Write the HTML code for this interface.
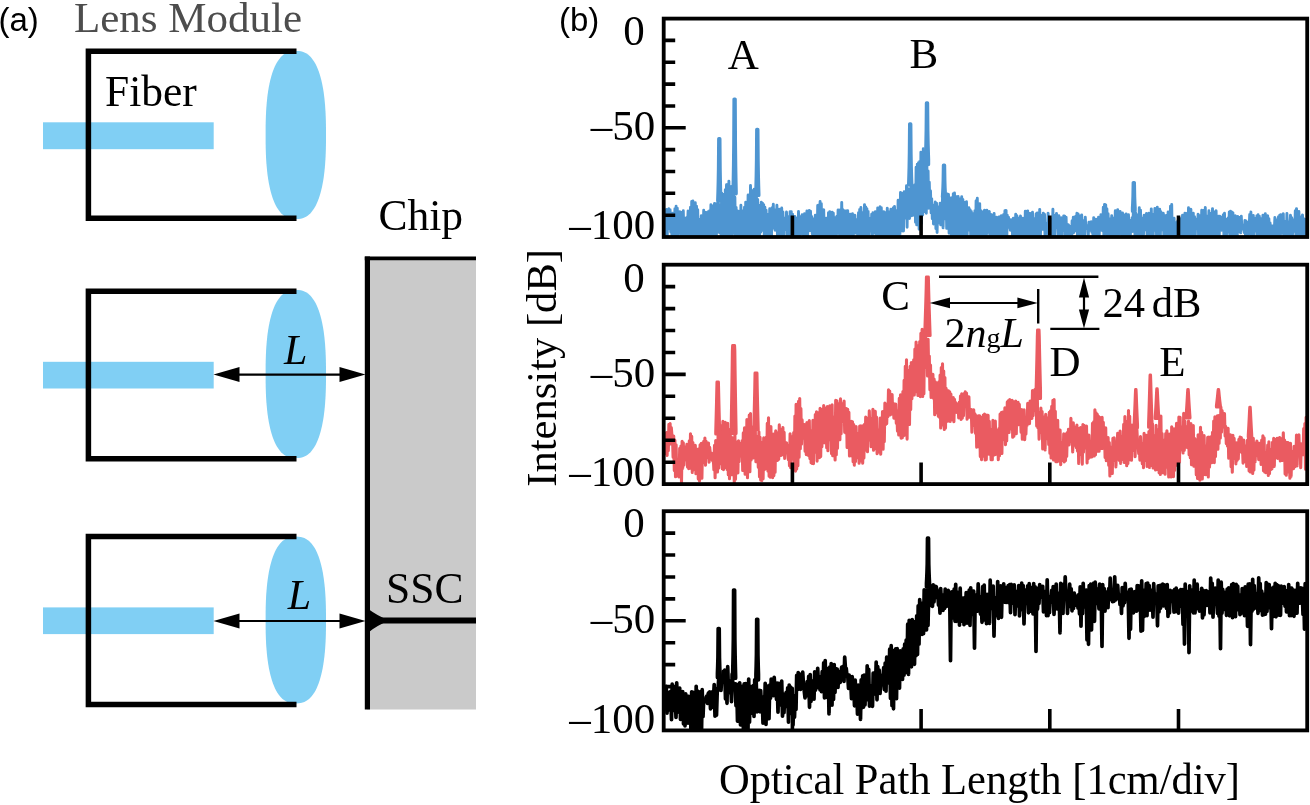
<!DOCTYPE html>
<html><head><meta charset="utf-8"><title>Figure</title>
<style>html,body{margin:0;padding:0;background:#fff;width:1310px;height:805px;overflow:hidden}svg{display:block}</style>
</head><body><svg width="1310" height="805" viewBox="0 0 1310 805"><rect width="1310" height="805" fill="#fff"/><text x="-1.5" y="31" font-family="'Liberation Sans', Arial, sans-serif" font-size="33">(a)</text><text x="74" y="31.8" font-family="'Liberation Serif', 'Times New Roman', serif" font-size="43" fill="#4d4d4d">Lens Module</text><rect x="43" y="122.3" width="170.7" height="26.89999999999999" fill="#80cff4"/><path d="M326.00 135.00 L325.97 142.93 L325.87 148.79 L325.70 154.04 L325.47 158.91 L325.17 163.49 L324.81 167.83 L324.38 171.96 L323.89 175.90 L323.34 179.66 L322.72 183.25 L322.03 186.66 L321.29 189.91 L320.48 192.99 L319.62 195.91 L318.69 198.66 L317.70 201.24 L316.65 203.66 L315.54 205.90 L314.37 207.97 L313.15 209.87 L311.86 211.59 L310.50 213.14 L309.09 214.51 L307.60 215.69 L306.04 216.70 L304.40 217.53 L302.65 218.17 L300.76 218.63 L298.65 218.91 L295.80 219.00 L292.95 218.91 L290.84 218.63 L288.95 218.17 L287.20 217.53 L285.56 216.70 L284.00 215.69 L282.51 214.51 L281.10 213.14 L279.74 211.59 L278.45 209.87 L277.23 207.97 L276.06 205.90 L274.95 203.66 L273.90 201.24 L272.91 198.66 L271.98 195.91 L271.12 192.99 L270.31 189.91 L269.57 186.66 L268.88 183.25 L268.26 179.66 L267.71 175.90 L267.22 171.96 L266.79 167.83 L266.43 163.49 L266.13 158.91 L265.90 154.04 L265.73 148.79 L265.63 142.93 L265.60 135.00 L265.63 127.07 L265.73 121.21 L265.90 115.96 L266.13 111.09 L266.43 106.51 L266.79 102.17 L267.22 98.04 L267.71 94.10 L268.26 90.34 L268.88 86.75 L269.57 83.34 L270.31 80.09 L271.12 77.01 L271.98 74.09 L272.91 71.34 L273.90 68.76 L274.95 66.34 L276.06 64.10 L277.23 62.03 L278.45 60.13 L279.74 58.41 L281.10 56.86 L282.51 55.49 L284.00 54.31 L285.56 53.30 L287.20 52.47 L288.95 51.83 L290.84 51.37 L292.95 51.09 L295.80 51.00 L298.65 51.09 L300.76 51.37 L302.65 51.83 L304.40 52.47 L306.04 53.30 L307.60 54.31 L309.09 55.49 L310.50 56.86 L311.86 58.41 L313.15 60.13 L314.37 62.03 L315.54 64.10 L316.65 66.34 L317.70 68.76 L318.69 71.34 L319.62 74.09 L320.48 77.01 L321.29 80.09 L322.03 83.34 L322.72 86.75 L323.34 90.34 L323.89 94.10 L324.38 98.04 L324.81 102.17 L325.17 106.51 L325.47 111.09 L325.70 115.96 L325.87 121.21 L325.97 127.07Z" fill="#80cff4"/><path d="M296.5 51.3 H88.4 V218.3 H296.5" fill="none" stroke="#000" stroke-width="5.5"/><rect x="43" y="361.8" width="170.7" height="26.69999999999999" fill="#80cff4"/><path d="M326.00 374.00 L325.97 381.93 L325.87 387.79 L325.70 393.04 L325.47 397.91 L325.17 402.49 L324.81 406.83 L324.38 410.96 L323.89 414.90 L323.34 418.66 L322.72 422.25 L322.03 425.66 L321.29 428.91 L320.48 431.99 L319.62 434.91 L318.69 437.66 L317.70 440.24 L316.65 442.66 L315.54 444.90 L314.37 446.97 L313.15 448.87 L311.86 450.59 L310.50 452.14 L309.09 453.51 L307.60 454.69 L306.04 455.70 L304.40 456.53 L302.65 457.17 L300.76 457.63 L298.65 457.91 L295.80 458.00 L292.95 457.91 L290.84 457.63 L288.95 457.17 L287.20 456.53 L285.56 455.70 L284.00 454.69 L282.51 453.51 L281.10 452.14 L279.74 450.59 L278.45 448.87 L277.23 446.97 L276.06 444.90 L274.95 442.66 L273.90 440.24 L272.91 437.66 L271.98 434.91 L271.12 431.99 L270.31 428.91 L269.57 425.66 L268.88 422.25 L268.26 418.66 L267.71 414.90 L267.22 410.96 L266.79 406.83 L266.43 402.49 L266.13 397.91 L265.90 393.04 L265.73 387.79 L265.63 381.93 L265.60 374.00 L265.63 366.07 L265.73 360.21 L265.90 354.96 L266.13 350.09 L266.43 345.51 L266.79 341.17 L267.22 337.04 L267.71 333.10 L268.26 329.34 L268.88 325.75 L269.57 322.34 L270.31 319.09 L271.12 316.01 L271.98 313.09 L272.91 310.34 L273.90 307.76 L274.95 305.34 L276.06 303.10 L277.23 301.03 L278.45 299.13 L279.74 297.41 L281.10 295.86 L282.51 294.49 L284.00 293.31 L285.56 292.30 L287.20 291.47 L288.95 290.83 L290.84 290.37 L292.95 290.09 L295.80 290.00 L298.65 290.09 L300.76 290.37 L302.65 290.83 L304.40 291.47 L306.04 292.30 L307.60 293.31 L309.09 294.49 L310.50 295.86 L311.86 297.41 L313.15 299.13 L314.37 301.03 L315.54 303.10 L316.65 305.34 L317.70 307.76 L318.69 310.34 L319.62 313.09 L320.48 316.01 L321.29 319.09 L322.03 322.34 L322.72 325.75 L323.34 329.34 L323.89 333.10 L324.38 337.04 L324.81 341.17 L325.17 345.51 L325.47 350.09 L325.70 354.96 L325.87 360.21 L325.97 366.07Z" fill="#80cff4"/><path d="M296.5 291.2 H88.4 V458.7 H296.5" fill="none" stroke="#000" stroke-width="5.5"/><rect x="43" y="607.4" width="170.7" height="26.700000000000045" fill="#80cff4"/><path d="M326.00 620.00 L325.97 627.87 L325.87 633.69 L325.70 638.91 L325.47 643.74 L325.17 648.29 L324.81 652.60 L324.38 656.70 L323.89 660.61 L323.34 664.34 L322.72 667.90 L322.03 671.29 L321.29 674.52 L320.48 677.58 L319.62 680.47 L318.69 683.21 L317.70 685.77 L316.65 688.17 L315.54 690.39 L314.37 692.45 L313.15 694.33 L311.86 696.05 L310.50 697.58 L309.09 698.94 L307.60 700.12 L306.04 701.12 L304.40 701.94 L302.65 702.58 L300.76 703.03 L298.65 703.31 L295.80 703.40 L292.95 703.31 L290.84 703.03 L288.95 702.58 L287.20 701.94 L285.56 701.12 L284.00 700.12 L282.51 698.94 L281.10 697.58 L279.74 696.05 L278.45 694.33 L277.23 692.45 L276.06 690.39 L274.95 688.17 L273.90 685.77 L272.91 683.21 L271.98 680.47 L271.12 677.58 L270.31 674.52 L269.57 671.29 L268.88 667.90 L268.26 664.34 L267.71 660.61 L267.22 656.70 L266.79 652.60 L266.43 648.29 L266.13 643.74 L265.90 638.91 L265.73 633.69 L265.63 627.87 L265.60 620.00 L265.63 612.13 L265.73 606.31 L265.90 601.09 L266.13 596.26 L266.43 591.71 L266.79 587.40 L267.22 583.30 L267.71 579.39 L268.26 575.66 L268.88 572.10 L269.57 568.71 L270.31 565.48 L271.12 562.42 L271.98 559.53 L272.91 556.79 L273.90 554.23 L274.95 551.83 L276.06 549.61 L277.23 547.55 L278.45 545.67 L279.74 543.95 L281.10 542.42 L282.51 541.06 L284.00 539.88 L285.56 538.88 L287.20 538.06 L288.95 537.42 L290.84 536.97 L292.95 536.69 L295.80 536.60 L298.65 536.69 L300.76 536.97 L302.65 537.42 L304.40 538.06 L306.04 538.88 L307.60 539.88 L309.09 541.06 L310.50 542.42 L311.86 543.95 L313.15 545.67 L314.37 547.55 L315.54 549.61 L316.65 551.83 L317.70 554.23 L318.69 556.79 L319.62 559.53 L320.48 562.42 L321.29 565.48 L322.03 568.71 L322.72 572.10 L323.34 575.66 L323.89 579.39 L324.38 583.30 L324.81 587.40 L325.17 591.71 L325.47 596.26 L325.70 601.09 L325.87 606.31 L325.97 612.13Z" fill="#80cff4"/><path d="M296.5 536.4 H88.4 V704.5 H296.5" fill="none" stroke="#000" stroke-width="5.5"/><text x="105" y="105.5" font-family="'Liberation Serif', 'Times New Roman', serif" font-size="43.5">Fiber</text><rect x="367" y="258" width="109" height="451.5" fill="#cacaca"/><path d="M367.4 256.5 V709.5" fill="none" stroke="#000" stroke-width="5.2"/><path d="M364.8 258.3 H476" stroke="#000" stroke-width="3.8"/><text x="378.5" y="230.4" font-family="'Liberation Serif', 'Times New Roman', serif" font-size="43.5">Chip</text><text x="386" y="603.3" font-family="'Liberation Serif', 'Times New Roman', serif" font-size="43.5">SSC</text><path d="M370 620.5 H476" stroke="#000" stroke-width="5.8"/><path d="M369 609.5 Q377 615.5 389 620.5 Q377 625.5 369 632 Z" fill="#000"/><path d="M237.5 374.6 H341.5" stroke="#000" stroke-width="2.2"/><path d="M213.5 374.6 L239.5 367.1 L239.5 382.1 Z" fill="#000"/><path d="M365.5 374.6 L339.5 367.1 L339.5 382.1 Z" fill="#000"/><path d="M237.5 621 H341.5" stroke="#000" stroke-width="2.2"/><path d="M213.5 621 L239.5 613.5 L239.5 628.5 Z" fill="#000"/><path d="M365.5 621 L339.5 613.5 L339.5 628.5 Z" fill="#000"/><text x="284" y="363.6" font-family="'Liberation Serif', 'Times New Roman', serif" font-size="42" font-style="italic">L</text><text x="287.8" y="609.2" font-family="'Liberation Serif', 'Times New Roman', serif" font-size="42" font-style="italic">L</text><text x="559" y="31" font-family="'Liberation Sans', Arial, sans-serif" font-size="33">(b)</text><clipPath id="c0"><rect x="663.7" y="18.6" width="643.5" height="218.4"/></clipPath><g clip-path="url(#c0)" fill="none" stroke="#4e95d1"><path d="M661.7 218.1 L662.3 228.6 L662.9 207.9 L663.5 241.4 L664.1 210.0 L664.7 242.3 L665.3 211.7 L665.9 243.6 L666.5 209.5 L667.1 243.3 L667.7 211.9 L668.3 227.2 L668.9 208.8 L669.5 228.7 L670.1 209.8 L670.7 232.0 L671.3 215.5 L671.9 235.1 L672.5 213.3 L673.1 234.5 L673.7 214.7 L674.3 231.2 L674.9 208.8 L675.5 240.9 L676.1 206.2 L676.7 237.2 L677.3 208.3 L677.9 241.8 L678.5 216.9 L679.1 233.4 L679.7 211.6 L680.3 229.8 L680.9 212.1 L681.5 239.1 L682.1 215.6 L682.7 235.0 L683.3 210.7 L683.9 240.5 L684.5 217.9 L685.1 241.9 L685.7 219.5 L686.3 243.7 L686.9 217.5 L687.5 226.4 L688.1 210.9 L688.7 241.9 L689.3 211.5 L689.9 238.5 L690.5 207.3 L691.1 240.7 L691.7 201.5 L692.3 227.2 L692.9 200.9 L693.5 243.6 L694.1 207.1 L694.7 231.6 L695.3 202.8 L695.9 239.5 L696.5 206.1 L697.1 235.4 L697.7 209.6 L698.3 238.4 L698.9 220.4 L699.5 242.8 L700.1 219.2 L700.7 242.1 L701.3 215.8 L701.9 240.7 L702.5 220.3 L703.1 235.9 L703.7 210.3 L704.3 236.4 L704.9 212.3 L705.5 236.5 L706.1 212.5 L706.7 239.5 L707.3 216.4 L707.9 243.4 L708.5 211.5 L709.1 235.4 L709.7 210.6 L710.3 230.7 L710.9 204.7 L711.5 241.7 L712.1 206.6 L712.7 243.0 L713.3 205.7 L713.9 240.6 L714.5 203.4 L715.1 241.5 L715.7 213.1 L716.3 240.3 L716.9 203.5 L717.5 227.8 L718.1 202.8 L718.7 232.2 L719.3 206.8 L719.9 232.7 L720.5 204.4 L721.1 242.3 L721.7 193.3 L722.3 238.5 L722.9 194.3 L723.5 241.7 L724.1 196.5 L724.7 243.1 L725.3 189.7 L725.9 236.8 L726.5 184.7 L727.1 230.7 L727.7 184.5 L728.3 238.1 L728.9 181.1 L729.5 239.1 L730.1 187.8 L730.7 235.5 L731.3 186.5 L731.9 238.8 L732.5 191.4 L733.1 227.1 L733.7 195.2 L734.3 233.5 L734.9 197.2 L735.5 237.3 L736.1 207.4 L736.7 239.1 L737.3 210.8 L737.9 235.3 L738.5 212.0 L739.1 236.0 L739.7 211.3 L740.3 230.1 L740.9 205.2 L741.5 240.1 L742.1 213.1 L742.7 240.4 L743.3 210.7 L743.9 242.4 L744.5 207.3 L745.1 239.6 L745.7 202.1 L746.3 241.9 L746.9 205.8 L747.5 234.0 L748.1 194.9 L748.7 236.0 L749.3 195.9 L749.9 233.6 L750.5 185.5 L751.1 242.0 L751.7 195.7 L752.3 236.2 L752.9 190.4 L753.5 242.7 L754.1 189.2 L754.7 241.9 L755.3 194.1 L755.9 236.1 L756.5 197.4 L757.1 233.6 L757.7 199.5 L758.3 237.0 L758.9 207.6 L759.5 243.4 L760.1 205.1 L760.7 232.1 L761.3 202.1 L761.9 229.1 L762.5 203.2 L763.1 230.5 L763.7 204.8 L764.3 238.8 L764.9 207.3 L765.5 236.0 L766.1 210.2 L766.7 243.6 L767.3 214.2 L767.9 236.7 L768.5 216.2 L769.1 242.5 L769.7 208.7 L770.3 226.9 L770.9 209.6 L771.5 237.2 L772.1 207.6 L772.7 228.2 L773.3 204.3 L773.9 225.8 L774.5 209.7 L775.1 230.2 L775.7 209.9 L776.3 230.2 L776.9 205.2 L777.5 238.6 L778.1 213.0 L778.7 225.7 L779.3 209.3 L779.9 243.4 L780.5 213.1 L781.1 234.4 L781.7 208.0 L782.3 241.9 L782.9 212.0 L783.5 242.6 L784.1 218.0 L784.7 226.0 L785.3 217.9 L785.9 229.8 L786.5 212.0 L787.1 243.0 L787.7 216.8 L788.3 230.9 L788.9 216.4 L789.5 242.2 L790.1 211.6 L790.7 236.1 L791.3 211.6 L791.9 241.0 L792.5 214.1 L793.1 241.2 L793.7 220.1 L794.3 240.3 L794.9 216.5 L795.5 226.7 L796.1 217.9 L796.7 239.4 L797.3 218.3 L797.9 242.0 L798.5 211.5 L799.1 243.6 L799.7 216.4 L800.3 234.3 L800.9 217.1 L801.5 233.6 L802.1 214.8 L802.7 227.4 L803.3 214.9 L803.9 242.9 L804.5 213.7 L805.1 238.9 L805.7 215.6 L806.3 240.0 L806.9 211.0 L807.5 240.9 L808.1 211.7 L808.7 229.9 L809.3 210.4 L809.9 230.8 L810.5 211.3 L811.1 226.2 L811.7 216.5 L812.3 233.9 L812.9 221.6 L813.5 243.3 L814.1 218.6 L814.7 243.3 L815.3 215.2 L815.9 236.4 L816.5 216.9 L817.1 242.3 L817.7 205.4 L818.3 234.8 L818.9 204.9 L819.5 236.3 L820.1 201.5 L820.7 233.3 L821.3 203.6 L821.9 237.3 L822.5 212.7 L823.1 228.5 L823.7 209.6 L824.3 236.3 L824.9 219.5 L825.5 242.8 L826.1 218.2 L826.7 232.5 L827.3 220.8 L827.9 237.5 L828.5 212.6 L829.1 236.3 L829.7 211.6 L830.3 243.4 L830.9 214.1 L831.5 239.2 L832.1 212.1 L832.7 233.5 L833.3 213.0 L833.9 242.7 L834.5 219.7 L835.1 227.0 L835.7 217.5 L836.3 235.2 L836.9 216.2 L837.5 233.4 L838.1 209.9 L838.7 228.0 L839.3 216.1 L839.9 242.9 L840.5 209.7 L841.1 240.3 L841.7 202.4 L842.3 229.5 L842.9 209.7 L843.5 235.8 L844.1 210.8 L844.7 229.1 L845.3 211.2 L845.9 237.5 L846.5 210.9 L847.1 238.0 L847.7 210.7 L848.3 240.0 L848.9 216.5 L849.5 240.9 L850.1 214.2 L850.7 230.9 L851.3 215.6 L851.9 238.0 L852.5 213.8 L853.1 243.4 L853.7 219.8 L854.3 226.7 L854.9 215.1 L855.5 233.1 L856.1 219.5 L856.7 230.4 L857.3 220.6 L857.9 242.0 L858.5 212.7 L859.1 240.4 L859.7 209.4 L860.3 235.4 L860.9 207.5 L861.5 233.9 L862.1 212.5 L862.7 243.5 L863.3 212.5 L863.9 230.3 L864.5 204.6 L865.1 236.3 L865.7 206.9 L866.3 237.7 L866.9 208.7 L867.5 236.0 L868.1 211.4 L868.7 243.4 L869.3 223.6 L869.9 230.8 L870.5 218.2 L871.1 231.1 L871.7 214.1 L872.3 243.3 L872.9 212.8 L873.5 231.9 L874.1 217.0 L874.7 232.7 L875.3 211.8 L875.9 237.2 L876.5 214.6 L877.1 235.4 L877.7 207.9 L878.3 237.9 L878.9 214.6 L879.5 226.7 L880.1 206.6 L880.7 242.9 L881.3 207.7 L881.9 237.1 L882.5 216.7 L883.1 236.9 L883.7 211.7 L884.3 229.0 L884.9 212.5 L885.5 236.5 L886.1 219.6 L886.7 229.2 L887.3 208.1 L887.9 240.6 L888.5 211.7 L889.1 231.6 L889.7 214.4 L890.3 236.5 L890.9 209.1 L891.5 241.0 L892.1 209.7 L892.7 230.8 L893.3 207.8 L893.9 240.9 L894.5 206.5 L895.1 243.0 L895.7 210.5 L896.3 238.7 L896.9 212.7 L897.5 239.0 L898.1 200.2 L898.7 242.6 L899.3 205.2 L899.9 234.9 L900.5 192.4 L901.1 227.1 L901.7 200.0 L902.3 231.0 L902.9 193.2 L903.5 231.0 L904.1 191.8 L904.7 218.1 L905.3 193.5 L905.9 214.1 L906.5 185.7 L907.1 227.3 L907.7 188.9 L908.3 218.4 L908.9 188.7 L909.5 218.5 L910.1 193.8 L910.7 216.0 L911.3 186.4 L911.9 215.6 L912.5 185.8 L913.1 215.1 L913.7 185.4 L914.3 215.4 L914.9 184.8 L915.5 222.2 L916.1 167.2 L916.7 224.9 L917.3 164.3 L917.9 220.8 L918.5 162.7 L919.1 229.3 L919.7 161.5 L920.3 225.6 L920.9 152.1 L921.5 223.4 L922.1 155.8 L922.7 215.0 L923.3 148.6 L923.9 199.3 L924.5 151.4 L925.1 211.8 L925.7 160.4 L926.3 213.2 L926.9 166.8 L927.5 201.7 L928.1 170.9 L928.7 208.2 L929.3 182.2 L929.9 207.0 L930.5 190.7 L931.1 212.9 L931.7 198.6 L932.3 218.8 L932.9 205.0 L933.5 224.0 L934.1 208.0 L934.7 220.1 L935.3 202.0 L935.9 228.6 L936.5 203.1 L937.1 232.5 L937.7 206.7 L938.3 221.0 L938.9 211.4 L939.5 223.0 L940.1 203.1 L940.7 224.9 L941.3 205.1 L941.9 219.5 L942.5 198.2 L943.1 227.9 L943.7 196.8 L944.3 215.1 L944.9 199.7 L945.5 218.9 L946.1 196.3 L946.7 228.4 L947.3 193.9 L947.9 224.4 L948.5 194.5 L949.1 233.3 L949.7 204.0 L950.3 230.0 L950.9 197.9 L951.5 238.0 L952.1 197.8 L952.7 242.3 L953.3 193.6 L953.9 240.3 L954.5 192.9 L955.1 241.4 L955.7 196.4 L956.3 229.2 L956.9 202.0 L957.5 243.7 L958.1 196.5 L958.7 233.6 L959.3 206.9 L959.9 242.4 L960.5 198.6 L961.1 241.7 L961.7 196.7 L962.3 242.1 L962.9 199.5 L963.5 234.2 L964.1 202.3 L964.7 242.3 L965.3 203.1 L965.9 238.1 L966.5 201.8 L967.1 237.4 L967.7 209.4 L968.3 230.3 L968.9 207.7 L969.5 227.2 L970.1 209.6 L970.7 236.1 L971.3 211.4 L971.9 240.1 L972.5 214.3 L973.1 228.0 L973.7 213.5 L974.3 238.7 L974.9 210.8 L975.5 237.8 L976.1 200.7 L976.7 239.7 L977.3 198.2 L977.9 228.2 L978.5 207.7 L979.1 238.7 L979.7 203.6 L980.3 243.0 L980.9 210.6 L981.5 236.8 L982.1 212.5 L982.7 239.7 L983.3 211.8 L983.9 242.9 L984.5 210.3 L985.1 242.8 L985.7 218.6 L986.3 242.5 L986.9 210.3 L987.5 230.0 L988.1 219.7 L988.7 232.5 L989.3 211.4 L989.9 243.0 L990.5 214.3 L991.1 243.1 L991.7 214.9 L992.3 243.6 L992.9 219.1 L993.5 239.1 L994.1 213.5 L994.7 243.2 L995.3 217.2 L995.9 231.2 L996.5 217.1 L997.1 241.6 L997.7 220.7 L998.3 236.9 L998.9 217.0 L999.5 228.0 L1000.1 216.8 L1000.7 242.8 L1001.3 215.8 L1001.9 240.9 L1002.5 216.2 L1003.1 236.1 L1003.7 214.4 L1004.3 242.7 L1004.9 210.7 L1005.5 226.6 L1006.1 210.4 L1006.7 243.4 L1007.3 215.3 L1007.9 227.3 L1008.5 217.3 L1009.1 225.9 L1009.7 219.6 L1010.3 230.2 L1010.9 219.7 L1011.5 227.2 L1012.1 223.3 L1012.7 240.3 L1013.3 218.3 L1013.9 237.0 L1014.5 222.8 L1015.1 235.5 L1015.7 214.2 L1016.3 243.9 L1016.9 215.8 L1017.5 243.9 L1018.1 217.9 L1018.7 241.2 L1019.3 218.2 L1019.9 225.8 L1020.5 216.0 L1021.1 236.0 L1021.7 219.7 L1022.3 242.5 L1022.9 218.1 L1023.5 232.9 L1024.1 219.7 L1024.7 242.0 L1025.3 211.2 L1025.9 239.5 L1026.5 211.4 L1027.1 241.1 L1027.7 210.9 L1028.3 239.1 L1028.9 213.3 L1029.5 240.4 L1030.1 213.5 L1030.7 243.7 L1031.3 213.6 L1031.9 234.4 L1032.5 212.3 L1033.1 236.1 L1033.7 218.4 L1034.3 237.0 L1034.9 220.0 L1035.5 231.6 L1036.1 213.7 L1036.7 243.2 L1037.3 212.9 L1037.9 243.9 L1038.5 219.1 L1039.1 243.8 L1039.7 209.4 L1040.3 242.4 L1040.9 215.2 L1041.5 228.0 L1042.1 215.7 L1042.7 229.4 L1043.3 213.1 L1043.9 228.4 L1044.5 214.3 L1045.1 240.6 L1045.7 223.1 L1046.3 233.3 L1046.9 224.5 L1047.5 229.6 L1048.1 213.1 L1048.7 238.9 L1049.3 221.9 L1049.9 233.2 L1050.5 219.0 L1051.1 243.5 L1051.7 219.4 L1052.3 236.2 L1052.9 209.2 L1053.5 235.7 L1054.1 215.1 L1054.7 236.3 L1055.3 216.3 L1055.9 227.6 L1056.5 213.4 L1057.1 226.4 L1057.7 220.2 L1058.3 241.2 L1058.9 215.7 L1059.5 243.7 L1060.1 224.0 L1060.7 231.9 L1061.3 217.7 L1061.9 242.3 L1062.5 226.7 L1063.1 230.7 L1063.7 215.9 L1064.3 227.5 L1064.9 216.2 L1065.5 241.3 L1066.1 217.3 L1066.7 241.1 L1067.3 224.5 L1067.9 239.4 L1068.5 224.9 L1069.1 234.9 L1069.7 226.1 L1070.3 238.2 L1070.9 226.5 L1071.5 241.7 L1072.1 220.7 L1072.7 233.2 L1073.3 217.2 L1073.9 232.5 L1074.5 222.1 L1075.1 230.7 L1075.7 216.3 L1076.3 227.0 L1076.9 213.2 L1077.5 238.0 L1078.1 214.0 L1078.7 243.8 L1079.3 215.7 L1079.9 237.5 L1080.5 218.3 L1081.1 243.6 L1081.7 215.0 L1082.3 241.1 L1082.9 220.5 L1083.5 242.1 L1084.1 221.0 L1084.7 240.8 L1085.3 217.3 L1085.9 228.8 L1086.5 225.4 L1087.1 226.0 L1087.7 225.6 L1088.3 235.2 L1088.9 222.2 L1089.5 230.5 L1090.1 222.2 L1090.7 230.1 L1091.3 221.7 L1091.9 232.4 L1092.5 223.1 L1093.1 239.4 L1093.7 217.6 L1094.3 241.6 L1094.9 220.6 L1095.5 237.8 L1096.1 219.3 L1096.7 241.3 L1097.3 222.1 L1097.9 236.3 L1098.5 217.3 L1099.1 238.9 L1099.7 220.7 L1100.3 230.1 L1100.9 214.6 L1101.5 227.2 L1102.1 215.7 L1102.7 230.9 L1103.3 207.2 L1103.9 237.1 L1104.5 204.5 L1105.1 233.9 L1105.7 204.9 L1106.3 228.9 L1106.9 208.7 L1107.5 243.5 L1108.1 213.7 L1108.7 242.8 L1109.3 221.5 L1109.9 238.7 L1110.5 218.7 L1111.1 241.6 L1111.7 215.8 L1112.3 242.3 L1112.9 225.1 L1113.5 236.0 L1114.1 217.9 L1114.7 239.6 L1115.3 210.8 L1115.9 240.4 L1116.5 214.9 L1117.1 238.9 L1117.7 209.7 L1118.3 236.1 L1118.9 214.2 L1119.5 233.6 L1120.1 211.4 L1120.7 228.7 L1121.3 214.6 L1121.9 239.7 L1122.5 212.9 L1123.1 229.8 L1123.7 214.7 L1124.3 240.8 L1124.9 222.3 L1125.5 238.0 L1126.1 214.0 L1126.7 243.0 L1127.3 221.9 L1127.9 240.4 L1128.5 214.8 L1129.1 241.1 L1129.7 224.0 L1130.3 237.5 L1130.9 220.2 L1131.5 231.1 L1132.1 217.6 L1132.7 231.5 L1133.3 212.3 L1133.9 230.3 L1134.5 215.4 L1135.1 242.3 L1135.7 213.1 L1136.3 236.9 L1136.9 214.6 L1137.5 226.1 L1138.1 215.3 L1138.7 234.7 L1139.3 207.7 L1139.9 243.2 L1140.5 210.1 L1141.1 238.4 L1141.7 219.4 L1142.3 243.6 L1142.9 217.9 L1143.5 234.7 L1144.1 215.2 L1144.7 228.1 L1145.3 215.3 L1145.9 229.9 L1146.5 213.4 L1147.1 235.9 L1147.7 219.3 L1148.3 229.2 L1148.9 213.2 L1149.5 241.9 L1150.1 216.2 L1150.7 234.3 L1151.3 208.9 L1151.9 235.5 L1152.5 216.9 L1153.1 241.7 L1153.7 214.3 L1154.3 227.7 L1154.9 208.4 L1155.5 230.4 L1156.1 215.4 L1156.7 243.6 L1157.3 207.3 L1157.9 241.4 L1158.5 215.5 L1159.1 235.6 L1159.7 209.2 L1160.3 239.6 L1160.9 211.8 L1161.5 226.0 L1162.1 220.9 L1162.7 229.8 L1163.3 213.1 L1163.9 239.4 L1164.5 215.4 L1165.1 240.3 L1165.7 219.3 L1166.3 238.2 L1166.9 215.2 L1167.5 235.6 L1168.1 212.0 L1168.7 243.4 L1169.3 214.9 L1169.9 237.8 L1170.5 206.1 L1171.1 237.7 L1171.7 204.4 L1172.3 240.6 L1172.9 219.7 L1173.5 240.3 L1174.1 218.2 L1174.7 241.0 L1175.3 224.7 L1175.9 237.5 L1176.5 222.5 L1177.1 229.6 L1177.7 221.0 L1178.3 230.0 L1178.9 222.3 L1179.5 239.9 L1180.1 218.6 L1180.7 243.6 L1181.3 222.4 L1181.9 240.1 L1182.5 215.2 L1183.1 237.0 L1183.7 219.7 L1184.3 234.6 L1184.9 213.2 L1185.5 239.5 L1186.1 218.0 L1186.7 239.1 L1187.3 213.3 L1187.9 231.1 L1188.5 207.7 L1189.1 242.6 L1189.7 214.6 L1190.3 227.7 L1190.9 209.3 L1191.5 243.4 L1192.1 219.3 L1192.7 236.0 L1193.3 213.2 L1193.9 243.5 L1194.5 216.6 L1195.1 242.6 L1195.7 221.8 L1196.3 228.1 L1196.9 219.0 L1197.5 226.0 L1198.1 214.1 L1198.7 243.2 L1199.3 216.8 L1199.9 241.3 L1200.5 215.4 L1201.1 243.4 L1201.7 210.2 L1202.3 234.0 L1202.9 217.7 L1203.5 243.4 L1204.1 210.2 L1204.7 227.3 L1205.3 207.5 L1205.9 238.4 L1206.5 216.0 L1207.1 237.7 L1207.7 218.4 L1208.3 239.1 L1208.9 210.7 L1209.5 243.4 L1210.1 213.1 L1210.7 226.1 L1211.3 220.1 L1211.9 243.5 L1212.5 208.6 L1213.1 243.3 L1213.7 217.1 L1214.3 240.0 L1214.9 211.8 L1215.5 232.4 L1216.1 210.8 L1216.7 239.4 L1217.3 217.7 L1217.9 228.4 L1218.5 216.1 L1219.1 242.1 L1219.7 216.2 L1220.3 227.1 L1220.9 221.6 L1221.5 230.2 L1222.1 216.9 L1222.7 229.5 L1223.3 214.8 L1223.9 235.2 L1224.5 213.2 L1225.1 237.3 L1225.7 219.2 L1226.3 242.6 L1226.9 221.5 L1227.5 229.7 L1228.1 217.9 L1228.7 232.2 L1229.3 212.0 L1229.9 243.4 L1230.5 211.1 L1231.1 243.0 L1231.7 212.0 L1232.3 231.9 L1232.9 212.6 L1233.5 243.2 L1234.1 220.1 L1234.7 227.7 L1235.3 215.7 L1235.9 242.1 L1236.5 223.1 L1237.1 243.7 L1237.7 216.5 L1238.3 230.7 L1238.9 219.9 L1239.5 231.7 L1240.1 217.3 L1240.7 232.9 L1241.3 216.3 L1241.9 229.0 L1242.5 225.0 L1243.1 227.2 L1243.7 226.4 L1244.3 232.5 L1244.9 220.4 L1245.5 236.2 L1246.1 221.0 L1246.7 228.0 L1247.3 225.5 L1247.9 236.6 L1248.5 222.1 L1249.1 229.1 L1249.7 214.5 L1250.3 233.6 L1250.9 212.0 L1251.5 243.6 L1252.1 219.4 L1252.7 241.9 L1253.3 215.5 L1253.9 237.5 L1254.5 222.7 L1255.1 231.3 L1255.7 218.2 L1256.3 230.8 L1256.9 215.8 L1257.5 243.5 L1258.1 214.7 L1258.7 235.6 L1259.3 216.2 L1259.9 226.3 L1260.5 218.5 L1261.1 236.1 L1261.7 221.2 L1262.3 237.2 L1262.9 215.2 L1263.5 242.0 L1264.1 216.5 L1264.7 241.5 L1265.3 213.6 L1265.9 239.9 L1266.5 221.3 L1267.1 229.2 L1267.7 215.7 L1268.3 242.1 L1268.9 218.7 L1269.5 243.5 L1270.1 223.0 L1270.7 242.0 L1271.3 225.6 L1271.9 242.7 L1272.5 226.0 L1273.1 236.4 L1273.7 226.5 L1274.3 230.5 L1274.9 217.4 L1275.5 236.3 L1276.1 220.0 L1276.7 243.5 L1277.3 219.8 L1277.9 226.6 L1278.5 216.7 L1279.1 243.8 L1279.7 215.2 L1280.3 238.7 L1280.9 214.8 L1281.5 233.2 L1282.1 216.1 L1282.7 229.2 L1283.3 213.8 L1283.9 242.6 L1284.5 224.6 L1285.1 243.5 L1285.7 221.2 L1286.3 243.3 L1286.9 213.5 L1287.5 234.7 L1288.1 222.0 L1288.7 234.9 L1289.3 225.5 L1289.9 226.0 L1290.5 215.2 L1291.1 238.1 L1291.7 217.6 L1292.3 242.3 L1292.9 219.7 L1293.5 228.9 L1294.1 220.5 L1294.7 231.3 L1295.3 210.8 L1295.9 236.2 L1296.5 208.6 L1297.1 231.6 L1297.7 218.0 L1298.3 237.4 L1298.9 211.5 L1299.5 232.2 L1300.1 216.6 L1300.7 243.5 L1301.3 219.5 L1301.9 228.3 L1302.5 214.9 L1303.1 241.0 L1303.7 218.6 L1304.3 235.5 L1304.9 220.7 L1305.5 235.9 L1306.1 219.2 L1306.7 238.6 L1307.3 218.4 L1307.9 234.4 L1308.5 224.4 L1309.1 226.1" stroke-width="2.9" stroke-linejoin="round"/><path d="M717.80 201.0 L717.80 199.7 L718.05 192.2 L718.30 182.8 L718.55 168.5 L718.80 138.8 L719.05 138.8 L719.30 138.8 L719.55 138.8 L719.80 138.8 L720.05 168.5 L720.30 182.8 L720.55 192.2 L720.80 199.7 L720.80 201.0ZM733.10 193.8 L733.10 191.1 L733.35 179.9 L733.60 165.6 L733.85 144.0 L734.10 99.1 L734.35 99.1 L734.60 99.1 L734.85 99.1 L735.10 99.1 L735.35 144.0 L735.60 165.6 L735.85 179.9 L736.10 191.1 L736.10 193.8ZM755.80 195.4 L755.80 194.0 L756.05 186.1 L756.30 176.1 L756.55 161.0 L756.80 129.5 L757.05 129.5 L757.30 129.5 L757.55 129.5 L757.80 129.5 L758.05 161.0 L758.30 176.1 L758.55 186.1 L758.80 194.0 L758.80 195.4ZM908.70 185.0 L908.70 183.7 L908.95 176.4 L909.20 167.2 L909.45 153.1 L909.70 123.9 L909.95 123.9 L910.20 123.9 L910.45 123.9 L910.70 123.9 L910.95 153.1 L911.20 167.2 L911.45 176.4 L911.70 183.7 L911.70 185.0ZM925.50 164.5 L925.50 159.0 L925.75 152.1 L926.00 143.4 L926.25 130.3 L926.50 102.9 L926.75 102.9 L927.00 102.9 L927.25 102.9 L927.50 102.9 L927.75 130.3 L928.00 143.4 L928.25 152.1 L928.50 159.0 L928.50 164.5ZM942.50 197.0 L942.50 196.9 L942.75 193.1 L943.00 188.2 L943.25 180.8 L943.50 165.3 L943.75 165.3 L944.00 165.3 L944.25 165.3 L944.50 165.3 L944.75 180.8 L945.00 188.2 L945.25 193.1 L945.50 196.9 L945.50 197.0ZM1132.55 211.3 L1132.55 207.8 L1132.80 203.4 L1133.05 196.6 L1133.30 182.6 L1133.55 182.6 L1133.80 182.6 L1134.05 182.6 L1134.30 182.6 L1134.55 196.6 L1134.80 203.4 L1135.05 207.8 L1135.05 211.3Z" fill="#4e95d1" stroke-width="3.4" stroke-linejoin="round"/></g><path d="M663.7 40.4h11.5M663.7 62.3h11.5M663.7 84.1h11.5M663.7 106.0h11.5M663.7 127.8h22M663.7 149.6h11.5M663.7 171.5h11.5M663.7 193.3h11.5M663.7 215.2h11.5M792.4 237.0V215.5M921.1 237.0V215.5M1049.8 237.0V215.5M1178.5 237.0V215.5" stroke="#000" stroke-width="3.6"/><rect x="663.7" y="18.6" width="643.5" height="218.4" fill="none" stroke="#000" stroke-width="3.8"/><text x="644.8" y="45" font-family="'Liberation Serif', 'Times New Roman', serif" font-size="43" text-anchor="end">0</text><text x="655.3" y="140" font-family="'Liberation Serif', 'Times New Roman', serif" font-size="43" text-anchor="end">–50</text><text x="655.3" y="239.3" font-family="'Liberation Serif', 'Times New Roman', serif" font-size="43" text-anchor="end">–100</text><clipPath id="c1"><rect x="663.7" y="264.7" width="643.5" height="219.40000000000003"/></clipPath><g clip-path="url(#c1)" fill="none" stroke="#ea5b61"><path d="M661.7 440.7 L662.3 459.0 L662.9 435.0 L663.5 456.1 L664.1 434.5 L664.7 453.6 L665.3 439.0 L665.9 451.3 L666.5 432.6 L667.1 455.5 L667.7 436.1 L668.3 450.6 L668.9 424.2 L669.5 442.0 L670.1 423.6 L670.7 443.9 L671.3 427.6 L671.9 434.8 L672.5 436.6 L673.1 457.2 L673.7 436.0 L674.3 470.5 L674.9 440.3 L675.5 476.6 L676.1 444.8 L676.7 476.2 L677.3 460.0 L677.9 474.1 L678.5 459.7 L679.1 477.0 L679.7 448.4 L680.3 465.7 L680.9 446.0 L681.5 482.5 L682.1 441.2 L682.7 468.4 L683.3 442.9 L683.9 465.3 L684.5 450.3 L685.1 460.3 L685.7 446.8 L686.3 458.8 L686.9 444.3 L687.5 467.0 L688.1 453.4 L688.7 468.6 L689.3 440.7 L689.9 468.3 L690.5 433.7 L691.1 465.5 L691.7 436.3 L692.3 472.4 L692.9 442.6 L693.5 469.8 L694.1 452.0 L694.7 467.4 L695.3 445.2 L695.9 473.8 L696.5 456.2 L697.1 464.4 L697.7 449.4 L698.3 478.9 L698.9 448.8 L699.5 481.0 L700.1 444.8 L700.7 477.9 L701.3 443.2 L701.9 478.3 L702.5 446.9 L703.1 462.7 L703.7 441.2 L704.3 458.6 L704.9 438.0 L705.5 465.1 L706.1 441.4 L706.7 456.1 L707.3 446.5 L707.9 458.0 L708.5 443.0 L709.1 462.1 L709.7 447.4 L710.3 453.3 L710.9 459.1 L711.5 453.1 L712.1 458.0 L712.7 460.9 L713.3 457.9 L713.9 470.0 L714.5 445.3 L715.1 477.8 L715.7 440.5 L716.3 465.5 L716.9 444.6 L717.5 472.0 L718.1 433.8 L718.7 468.1 L719.3 440.3 L719.9 457.7 L720.5 431.3 L721.1 463.7 L721.7 425.5 L722.3 468.8 L722.9 421.2 L723.5 469.6 L724.1 428.6 L724.7 467.4 L725.3 422.4 L725.9 462.5 L726.5 429.3 L727.1 469.5 L727.7 423.2 L728.3 474.7 L728.9 429.3 L729.5 478.7 L730.1 431.7 L730.7 473.7 L731.3 436.9 L731.9 474.8 L732.5 437.8 L733.1 465.3 L733.7 440.2 L734.3 482.5 L734.9 434.8 L735.5 479.2 L736.1 441.9 L736.7 472.5 L737.3 445.1 L737.9 473.0 L738.5 440.7 L739.1 461.6 L739.7 443.4 L740.3 456.0 L740.9 451.3 L741.5 452.6 L742.1 440.8 L742.7 470.4 L743.3 432.9 L743.9 466.6 L744.5 427.9 L745.1 474.2 L745.7 432.2 L746.3 463.7 L746.9 419.5 L747.5 477.8 L748.1 426.1 L748.7 466.5 L749.3 415.1 L749.9 471.7 L750.5 413.6 L751.1 460.0 L751.7 431.5 L752.3 451.6 L752.9 427.0 L753.5 457.9 L754.1 432.8 L754.7 452.5 L755.3 429.2 L755.9 461.7 L756.5 436.3 L757.1 461.6 L757.7 440.8 L758.3 467.3 L758.9 431.7 L759.5 476.8 L760.1 437.4 L760.7 480.1 L761.3 446.4 L761.9 480.4 L762.5 442.4 L763.1 478.8 L763.7 437.9 L764.3 469.6 L764.9 439.9 L765.5 468.6 L766.1 437.2 L766.7 463.1 L767.3 423.2 L767.9 471.1 L768.5 417.7 L769.1 476.2 L769.7 434.0 L770.3 477.2 L770.9 426.5 L771.5 476.9 L772.1 440.0 L772.7 477.6 L773.3 434.0 L773.9 475.6 L774.5 437.4 L775.1 472.3 L775.7 430.9 L776.3 454.0 L776.9 432.8 L777.5 460.5 L778.1 434.3 L778.7 459.3 L779.3 424.7 L779.9 450.1 L780.5 437.4 L781.1 455.4 L781.7 429.3 L782.3 442.0 L782.9 427.6 L783.5 454.7 L784.1 432.3 L784.7 458.5 L785.3 446.2 L785.9 452.7 L786.5 442.7 L787.1 452.4 L787.7 445.4 L788.3 459.7 L788.9 447.6 L789.5 465.8 L790.1 433.7 L790.7 467.8 L791.3 437.3 L791.9 459.4 L792.5 436.5 L793.1 454.0 L793.7 432.5 L794.3 469.6 L794.9 416.1 L795.5 471.1 L796.1 404.4 L796.7 468.9 L797.3 408.2 L797.9 465.7 L798.5 401.4 L799.1 457.3 L799.7 398.5 L800.3 448.8 L800.9 408.5 L801.5 444.1 L802.1 419.8 L802.7 435.7 L803.3 435.6 L803.9 438.2 L804.5 424.6 L805.1 451.3 L805.7 437.6 L806.3 454.6 L806.9 422.6 L807.5 452.9 L808.1 431.6 L808.7 455.6 L809.3 420.5 L809.9 458.6 L810.5 436.9 L811.1 462.7 L811.7 430.5 L812.3 463.4 L812.9 420.4 L813.5 463.6 L814.1 421.1 L814.7 452.3 L815.3 414.6 L815.9 450.3 L816.5 411.7 L817.1 461.1 L817.7 413.6 L818.3 445.2 L818.9 412.6 L819.5 457.6 L820.1 408.3 L820.7 456.5 L821.3 413.9 L821.9 446.7 L822.5 409.4 L823.1 438.4 L823.7 405.6 L824.3 442.8 L824.9 408.7 L825.5 443.0 L826.1 408.0 L826.7 447.8 L827.3 406.5 L827.9 450.7 L828.5 412.0 L829.1 434.2 L829.7 405.7 L830.3 439.8 L830.9 412.6 L831.5 453.6 L832.1 404.8 L832.7 455.7 L833.3 417.6 L833.9 451.7 L834.5 417.1 L835.1 459.9 L835.7 400.2 L836.3 454.8 L836.9 400.8 L837.5 448.2 L838.1 403.6 L838.7 430.7 L839.3 407.2 L839.9 439.8 L840.5 398.8 L841.1 433.6 L841.7 403.9 L842.3 421.8 L842.9 403.6 L843.5 418.8 L844.1 401.1 L844.7 432.3 L845.3 415.5 L845.9 433.1 L846.5 408.5 L847.1 447.4 L847.7 409.2 L848.3 435.1 L848.9 412.3 L849.5 456.0 L850.1 425.7 L850.7 453.4 L851.3 421.3 L851.9 456.0 L852.5 421.7 L853.1 461.7 L853.7 424.5 L854.3 465.1 L854.9 431.3 L855.5 461.5 L856.1 426.6 L856.7 457.9 L857.3 433.2 L857.9 455.2 L858.5 433.4 L859.1 463.2 L859.7 426.1 L860.3 458.7 L860.9 425.9 L861.5 461.0 L862.1 436.2 L862.7 463.1 L863.3 425.6 L863.9 458.0 L864.5 424.3 L865.1 450.5 L865.7 417.1 L866.3 439.2 L866.9 418.0 L867.5 451.7 L868.1 419.9 L868.7 440.5 L869.3 410.9 L869.9 435.9 L870.5 418.5 L871.1 446.8 L871.7 422.4 L872.3 441.7 L872.9 409.3 L873.5 450.3 L874.1 411.1 L874.7 444.8 L875.3 411.4 L875.9 448.7 L876.5 417.0 L877.1 453.8 L877.7 429.8 L878.3 437.0 L878.9 430.9 L879.5 451.9 L880.1 418.0 L880.7 454.3 L881.3 431.9 L881.9 441.5 L882.5 411.6 L883.1 449.1 L883.7 418.5 L884.3 441.6 L884.9 403.1 L885.5 424.7 L886.1 407.4 L886.7 423.6 L887.3 403.9 L887.9 416.8 L888.5 389.7 L889.1 407.9 L889.7 391.1 L890.3 414.9 L890.9 398.6 L891.5 409.6 L892.1 394.5 L892.7 414.0 L893.3 403.3 L893.9 418.3 L894.5 405.5 L895.1 418.1 L895.7 404.1 L896.3 423.1 L896.9 414.1 L897.5 431.3 L898.1 411.0 L898.7 435.0 L899.3 398.4 L899.9 422.8 L900.5 394.8 L901.1 438.1 L901.7 402.0 L902.3 437.8 L902.9 391.5 L903.5 435.7 L904.1 380.4 L904.7 434.9 L905.3 366.3 L905.9 434.1 L906.5 359.7 L907.1 439.1 L907.7 370.4 L908.3 415.4 L908.9 377.7 L909.5 424.5 L910.1 366.4 L910.7 409.4 L911.3 362.5 L911.9 398.7 L912.5 365.8 L913.1 395.2 L913.7 359.9 L914.3 395.0 L914.9 349.1 L915.5 384.1 L916.1 342.0 L916.7 391.8 L917.3 345.6 L917.9 395.5 L918.5 347.0 L919.1 386.9 L919.7 341.6 L920.3 396.6 L920.9 333.3 L921.5 393.3 L922.1 329.4 L922.7 396.4 L923.3 332.6 L923.9 393.8 L924.5 329.6 L925.1 367.4 L925.7 335.7 L926.3 359.1 L926.9 341.6 L927.5 375.9 L928.1 339.4 L928.7 374.7 L929.3 356.0 L929.9 389.6 L930.5 365.0 L931.1 397.4 L931.7 381.8 L932.3 390.9 L932.9 374.3 L933.5 398.1 L934.1 379.1 L934.7 414.6 L935.3 381.9 L935.9 410.4 L936.5 382.8 L937.1 412.7 L937.7 394.3 L938.3 416.3 L938.9 381.8 L939.5 417.1 L940.1 375.0 L940.7 428.0 L941.3 367.5 L941.9 424.9 L942.5 363.7 L943.1 419.7 L943.7 371.1 L944.3 429.4 L944.9 377.5 L945.5 428.1 L946.1 388.4 L946.7 415.9 L947.3 390.5 L947.9 421.2 L948.5 390.8 L949.1 418.3 L949.7 391.9 L950.3 421.4 L950.9 394.1 L951.5 416.5 L952.1 400.8 L952.7 419.7 L953.3 397.6 L953.9 421.7 L954.5 399.4 L955.1 407.3 L955.7 402.5 L956.3 412.4 L956.9 406.8 L957.5 407.6 L958.1 403.8 L958.7 418.0 L959.3 402.3 L959.9 411.8 L960.5 396.1 L961.1 419.5 L961.7 393.7 L962.3 418.2 L962.9 397.9 L963.5 415.6 L964.1 393.5 L964.7 404.3 L965.3 391.9 L965.9 405.3 L966.5 393.0 L967.1 419.3 L967.7 396.5 L968.3 414.8 L968.9 396.7 L969.5 417.2 L970.1 409.0 L970.7 416.6 L971.3 409.6 L971.9 432.1 L972.5 412.9 L973.1 425.5 L973.7 409.8 L974.3 425.8 L974.9 413.9 L975.5 433.3 L976.1 415.5 L976.7 447.1 L977.3 420.0 L977.9 443.9 L978.5 415.7 L979.1 446.9 L979.7 415.7 L980.3 456.5 L980.9 417.3 L981.5 459.6 L982.1 425.8 L982.7 456.2 L983.3 415.1 L983.9 453.0 L984.5 414.0 L985.1 460.0 L985.7 415.6 L986.3 459.6 L986.9 415.0 L987.5 443.7 L988.1 415.3 L988.7 454.1 L989.3 421.3 L989.9 454.1 L990.5 432.4 L991.1 459.7 L991.7 429.2 L992.3 459.7 L992.9 420.3 L993.5 455.3 L994.1 425.7 L994.7 454.6 L995.3 421.1 L995.9 443.8 L996.5 430.2 L997.1 454.3 L997.7 430.3 L998.3 459.6 L998.9 428.5 L999.5 455.7 L1000.1 414.1 L1000.7 441.2 L1001.3 412.6 L1001.9 453.4 L1002.5 412.0 L1003.1 440.0 L1003.7 418.1 L1004.3 434.8 L1004.9 407.7 L1005.5 444.7 L1006.1 418.8 L1006.7 441.0 L1007.3 401.9 L1007.9 428.4 L1008.5 400.5 L1009.1 432.5 L1009.7 399.6 L1010.3 429.3 L1010.9 401.1 L1011.5 424.8 L1012.1 400.4 L1012.7 437.3 L1013.3 401.6 L1013.9 436.1 L1014.5 401.8 L1015.1 432.6 L1015.7 401.0 L1016.3 433.7 L1016.9 402.3 L1017.5 425.1 L1018.1 402.3 L1018.7 422.1 L1019.3 404.3 L1019.9 424.5 L1020.5 413.1 L1021.1 432.2 L1021.7 409.5 L1022.3 439.3 L1022.9 420.8 L1023.5 431.1 L1024.1 409.7 L1024.7 439.8 L1025.3 424.1 L1025.9 434.1 L1026.5 417.7 L1027.1 425.5 L1027.7 403.4 L1028.3 418.4 L1028.9 406.3 L1029.5 423.6 L1030.1 401.1 L1030.7 418.6 L1031.3 403.0 L1031.9 418.5 L1032.5 390.5 L1033.1 415.6 L1033.7 397.6 L1034.3 410.2 L1034.9 389.6 L1035.5 403.6 L1036.1 395.1 L1036.7 426.0 L1037.3 396.6 L1037.9 427.6 L1038.5 414.5 L1039.1 439.2 L1039.7 412.4 L1040.3 432.9 L1040.9 408.0 L1041.5 429.8 L1042.1 411.5 L1042.7 449.0 L1043.3 424.1 L1043.9 433.5 L1044.5 416.7 L1045.1 449.9 L1045.7 414.4 L1046.3 437.4 L1046.9 419.1 L1047.5 438.8 L1048.1 417.8 L1048.7 444.4 L1049.3 412.4 L1049.9 453.2 L1050.5 410.8 L1051.1 458.0 L1051.7 406.3 L1052.3 450.3 L1052.9 400.3 L1053.5 460.0 L1054.1 399.6 L1054.7 457.9 L1055.3 411.2 L1055.9 461.7 L1056.5 422.1 L1057.1 461.8 L1057.7 420.4 L1058.3 457.5 L1058.9 430.1 L1059.5 461.0 L1060.1 430.0 L1060.7 464.6 L1061.3 442.3 L1061.9 447.5 L1062.5 446.0 L1063.1 460.7 L1063.7 433.7 L1064.3 461.9 L1064.9 436.1 L1065.5 460.8 L1066.1 433.7 L1066.7 456.5 L1067.3 432.5 L1067.9 443.5 L1068.5 429.3 L1069.1 445.0 L1069.7 433.0 L1070.3 441.5 L1070.9 418.3 L1071.5 433.1 L1072.1 434.2 L1072.7 451.9 L1073.3 422.8 L1073.9 439.9 L1074.5 427.0 L1075.1 445.1 L1075.7 431.9 L1076.3 447.7 L1076.9 425.1 L1077.5 450.9 L1078.1 429.3 L1078.7 463.4 L1079.3 428.2 L1079.9 455.0 L1080.5 427.6 L1081.1 453.3 L1081.7 433.3 L1082.3 464.1 L1082.9 424.5 L1083.5 452.3 L1084.1 425.3 L1084.7 448.1 L1085.3 426.6 L1085.9 446.6 L1086.5 426.0 L1087.1 463.0 L1087.7 442.6 L1088.3 458.8 L1088.9 435.1 L1089.5 454.8 L1090.1 441.3 L1090.7 457.2 L1091.3 443.0 L1091.9 457.0 L1092.5 423.2 L1093.1 439.9 L1093.7 421.7 L1094.3 455.9 L1094.9 409.7 L1095.5 454.8 L1096.1 412.9 L1096.7 440.8 L1097.3 414.2 L1097.9 451.2 L1098.5 416.2 L1099.1 451.2 L1099.7 417.2 L1100.3 439.2 L1100.9 427.7 L1101.5 448.5 L1102.1 417.4 L1102.7 448.4 L1103.3 422.3 L1103.9 448.3 L1104.5 431.5 L1105.1 457.5 L1105.7 427.8 L1106.3 460.7 L1106.9 446.5 L1107.5 459.7 L1108.1 437.5 L1108.7 465.2 L1109.3 442.6 L1109.9 475.9 L1110.5 447.7 L1111.1 465.9 L1111.7 447.1 L1112.3 473.5 L1112.9 438.4 L1113.5 460.6 L1114.1 437.8 L1114.7 458.7 L1115.3 446.3 L1115.9 466.9 L1116.5 450.4 L1117.1 444.7 L1117.7 433.2 L1118.3 459.1 L1118.9 444.6 L1119.5 460.7 L1120.1 431.1 L1120.7 463.4 L1121.3 437.0 L1121.9 459.7 L1122.5 436.0 L1123.1 446.2 L1123.7 424.4 L1124.3 462.5 L1124.9 416.5 L1125.5 453.8 L1126.1 427.3 L1126.7 465.7 L1127.3 421.4 L1127.9 463.4 L1128.5 410.6 L1129.1 459.7 L1129.7 416.2 L1130.3 458.9 L1130.9 426.8 L1131.5 460.2 L1132.1 425.0 L1132.7 450.1 L1133.3 435.4 L1133.9 450.7 L1134.5 427.1 L1135.1 456.8 L1135.7 428.3 L1136.3 443.9 L1136.9 429.7 L1137.5 442.0 L1138.1 445.0 L1138.7 453.7 L1139.3 447.0 L1139.9 460.1 L1140.5 436.6 L1141.1 453.1 L1141.7 445.2 L1142.3 463.7 L1142.9 443.8 L1143.5 467.6 L1144.1 433.2 L1144.7 457.8 L1145.3 436.5 L1145.9 460.4 L1146.5 435.2 L1147.1 466.4 L1147.7 442.0 L1148.3 454.4 L1148.9 431.5 L1149.5 467.4 L1150.1 429.9 L1150.7 458.3 L1151.3 428.3 L1151.9 465.5 L1152.5 424.0 L1153.1 467.9 L1153.7 435.5 L1154.3 454.7 L1154.9 437.3 L1155.5 470.0 L1156.1 425.3 L1156.7 467.2 L1157.3 430.6 L1157.9 469.6 L1158.5 429.5 L1159.1 472.8 L1159.7 417.9 L1160.3 474.5 L1160.9 416.1 L1161.5 467.4 L1162.1 433.5 L1162.7 472.8 L1163.3 440.0 L1163.9 470.3 L1164.5 445.0 L1165.1 474.2 L1165.7 433.5 L1166.3 467.2 L1166.9 430.9 L1167.5 465.5 L1168.1 438.6 L1168.7 476.9 L1169.3 434.1 L1169.9 471.5 L1170.5 439.5 L1171.1 477.0 L1171.7 426.7 L1172.3 474.8 L1172.9 438.0 L1173.5 476.6 L1174.1 428.9 L1174.7 470.1 L1175.3 438.5 L1175.9 461.4 L1176.5 423.4 L1177.1 465.3 L1177.7 434.0 L1178.3 461.6 L1178.9 417.1 L1179.5 461.9 L1180.1 417.2 L1180.7 450.1 L1181.3 428.2 L1181.9 441.6 L1182.5 426.7 L1183.1 452.9 L1183.7 413.3 L1184.3 450.1 L1184.9 421.1 L1185.5 447.5 L1186.1 426.5 L1186.7 447.0 L1187.3 432.1 L1187.9 447.9 L1188.5 421.1 L1189.1 454.7 L1189.7 429.5 L1190.3 457.7 L1190.9 423.5 L1191.5 464.8 L1192.1 431.7 L1192.7 462.4 L1193.3 425.6 L1193.9 466.2 L1194.5 438.3 L1195.1 460.7 L1195.7 449.8 L1196.3 474.8 L1196.9 439.5 L1197.5 478.5 L1198.1 434.7 L1198.7 473.3 L1199.3 435.2 L1199.9 480.3 L1200.5 427.2 L1201.1 467.7 L1201.7 432.3 L1202.3 479.0 L1202.9 436.4 L1203.5 474.7 L1204.1 435.5 L1204.7 464.5 L1205.3 445.8 L1205.9 474.8 L1206.5 446.0 L1207.1 465.5 L1207.7 437.3 L1208.3 476.9 L1208.9 437.0 L1209.5 467.2 L1210.1 446.3 L1210.7 459.2 L1211.3 436.5 L1211.9 462.8 L1212.5 432.3 L1213.1 462.3 L1213.7 421.1 L1214.3 462.6 L1214.9 416.8 L1215.5 456.5 L1216.1 419.5 L1216.7 446.3 L1217.3 415.9 L1217.9 449.1 L1218.5 415.5 L1219.1 443.5 L1219.7 415.8 L1220.3 438.1 L1220.9 407.0 L1221.5 432.2 L1222.1 410.6 L1222.7 419.1 L1223.3 419.0 L1223.9 427.5 L1224.5 413.5 L1225.1 436.0 L1225.7 426.3 L1226.3 443.6 L1226.9 430.3 L1227.5 446.2 L1228.1 428.3 L1228.7 458.2 L1229.3 439.5 L1229.9 452.0 L1230.5 434.9 L1231.1 466.8 L1231.7 448.5 L1232.3 472.1 L1232.9 435.2 L1233.5 458.8 L1234.1 438.2 L1234.7 457.8 L1235.3 449.3 L1235.9 463.9 L1236.5 442.9 L1237.1 460.4 L1237.7 449.5 L1238.3 458.9 L1238.9 439.2 L1239.5 452.0 L1240.1 437.0 L1240.7 449.3 L1241.3 437.6 L1241.9 452.7 L1242.5 448.6 L1243.1 463.2 L1243.7 440.1 L1244.3 459.3 L1244.9 449.6 L1245.5 461.7 L1246.1 445.8 L1246.7 466.5 L1247.3 440.3 L1247.9 460.0 L1248.5 436.4 L1249.1 470.9 L1249.7 436.2 L1250.3 472.0 L1250.9 438.0 L1251.5 471.2 L1252.1 441.6 L1252.7 473.5 L1253.3 438.3 L1253.9 470.1 L1254.5 443.1 L1255.1 461.9 L1255.7 448.3 L1256.3 455.9 L1256.9 441.1 L1257.5 455.8 L1258.1 443.1 L1258.7 459.8 L1259.3 444.5 L1259.9 458.1 L1260.5 443.1 L1261.1 464.5 L1261.7 440.1 L1262.3 463.1 L1262.9 435.7 L1263.5 470.6 L1264.1 437.7 L1264.7 471.9 L1265.3 452.2 L1265.9 472.6 L1266.5 459.3 L1267.1 465.4 L1267.7 445.0 L1268.3 475.5 L1268.9 441.7 L1269.5 473.7 L1270.1 453.4 L1270.7 469.7 L1271.3 449.2 L1271.9 468.9 L1272.5 442.3 L1273.1 467.0 L1273.7 438.4 L1274.3 466.4 L1274.9 439.0 L1275.5 457.8 L1276.1 451.0 L1276.7 453.6 L1277.3 438.4 L1277.9 458.4 L1278.5 443.5 L1279.1 452.3 L1279.7 437.6 L1280.3 461.0 L1280.9 438.6 L1281.5 452.1 L1282.1 439.3 L1282.7 460.4 L1283.3 432.8 L1283.9 458.2 L1284.5 440.0 L1285.1 473.9 L1285.7 442.0 L1286.3 475.2 L1286.9 442.5 L1287.5 460.7 L1288.1 442.5 L1288.7 471.9 L1289.3 451.9 L1289.9 478.1 L1290.5 443.2 L1291.1 476.4 L1291.7 457.5 L1292.3 463.1 L1292.9 451.3 L1293.5 468.7 L1294.1 446.3 L1294.7 466.9 L1295.3 449.5 L1295.9 459.5 L1296.5 435.0 L1297.1 465.9 L1297.7 439.7 L1298.3 455.4 L1298.9 434.7 L1299.5 454.7 L1300.1 446.1 L1300.7 467.7 L1301.3 443.9 L1301.9 452.4 L1302.5 449.3 L1303.1 454.6 L1303.7 428.6 L1304.3 453.5 L1304.9 423.5 L1305.5 469.3 L1306.1 417.2 L1306.7 460.1 L1307.3 423.7 L1307.9 464.4 L1308.5 421.1 L1309.1 460.6" stroke-width="3.1" stroke-linejoin="round"/><path d="M715.70 434.0 L715.70 431.8 L715.95 422.9 L716.20 413.5 L716.45 403.7 L716.70 392.9 L716.95 382.0 L717.20 382.0 L717.45 382.0 L717.70 382.0 L717.95 382.0 L718.20 382.0 L718.45 382.0 L718.70 392.9 L718.95 403.7 L719.20 413.5 L719.45 422.9 L719.70 431.8 L719.70 434.0ZM731.10 433.4 L731.10 429.2 L731.35 415.4 L731.60 401.0 L731.85 385.9 L732.10 369.7 L732.35 350.8 L732.60 345.6 L732.85 345.6 L733.10 345.6 L733.35 345.6 L733.60 345.6 L733.85 345.6 L734.10 345.6 L734.35 345.6 L734.60 345.6 L734.85 350.8 L735.10 369.7 L735.35 385.9 L735.60 401.0 L735.85 415.4 L736.10 429.2 L736.10 433.4ZM753.75 429.8 L753.75 429.2 L754.00 419.5 L754.25 409.4 L754.50 398.8 L754.75 387.4 L755.00 373.1 L755.25 373.1 L755.50 373.1 L755.75 373.1 L756.00 373.1 L756.25 373.1 L756.50 373.1 L756.75 373.1 L757.00 373.1 L757.25 387.4 L757.50 398.8 L757.75 409.4 L758.00 419.5 L758.25 429.2 L758.25 429.8ZM924.65 335.6 L924.65 335.5 L924.90 328.3 L925.15 320.9 L925.40 313.3 L925.65 305.5 L925.90 297.2 L926.15 288.2 L926.40 277.0 L926.65 277.0 L926.90 277.0 L927.15 277.0 L927.40 277.0 L927.65 277.0 L927.90 277.0 L928.15 277.0 L928.40 277.0 L928.65 288.2 L928.90 297.2 L929.15 305.5 L929.40 313.3 L929.65 320.9 L929.90 328.3 L930.15 335.5 L930.15 335.6ZM1036.05 398.5 L1036.05 390.4 L1036.30 380.7 L1036.55 370.7 L1036.80 360.3 L1037.05 349.1 L1037.30 336.5 L1037.55 329.9 L1037.80 329.9 L1038.05 329.9 L1038.30 329.9 L1038.55 329.9 L1038.80 329.9 L1039.05 329.9 L1039.30 336.5 L1039.55 349.1 L1039.80 360.3 L1040.05 370.7 L1040.30 380.7 L1040.55 390.4 L1040.55 398.5ZM1134.05 427.7 L1134.05 424.8 L1134.30 419.4 L1134.55 413.8 L1134.80 407.9 L1135.05 401.7 L1135.30 394.9 L1135.55 389.6 L1135.80 389.6 L1136.05 389.6 L1136.30 394.9 L1136.55 401.7 L1136.80 407.9 L1137.05 413.8 L1137.30 419.4 L1137.55 424.8 L1137.55 427.7ZM1148.55 427.2 L1148.55 422.8 L1148.80 415.4 L1149.05 407.8 L1149.30 399.9 L1149.55 391.5 L1149.80 382.2 L1150.05 375.0 L1150.30 375.0 L1150.55 375.0 L1150.80 382.2 L1151.05 391.5 L1151.30 399.9 L1151.55 407.8 L1151.80 415.4 L1152.05 422.8 L1152.05 427.2ZM1155.25 418.6 L1155.25 416.6 L1155.50 412.3 L1155.75 407.9 L1156.00 403.3 L1156.25 398.4 L1156.50 393.0 L1156.75 388.8 L1157.00 388.8 L1157.25 388.8 L1157.50 393.0 L1157.75 398.4 L1158.00 403.3 L1158.25 407.9 L1158.50 412.3 L1158.75 416.6 L1158.75 418.6ZM1186.00 417.9 L1186.00 417.1 L1186.25 413.5 L1186.50 409.8 L1186.75 406.0 L1187.00 402.0 L1187.25 397.8 L1187.50 393.2 L1187.75 389.6 L1188.00 389.6 L1188.25 389.6 L1188.50 393.2 L1188.75 397.8 L1189.00 402.0 L1189.25 406.0 L1189.50 409.8 L1189.75 413.5 L1190.00 417.1 L1190.00 417.9ZM1216.40 407.1 L1216.40 405.5 L1216.65 403.5 L1216.90 401.3 L1217.15 399.1 L1217.40 396.8 L1217.65 394.4 L1217.90 391.7 L1218.15 389.6 L1218.40 389.6 L1218.65 389.6 L1218.90 391.7 L1219.15 394.4 L1219.40 396.8 L1219.65 399.1 L1219.90 401.3 L1220.15 403.5 L1220.40 405.5 L1220.40 407.1ZM1248.25 437.0 L1248.25 434.9 L1248.50 430.7 L1248.75 426.3 L1249.00 421.7 L1249.25 416.8 L1249.50 411.4 L1249.75 407.3 L1250.00 407.3 L1250.25 407.3 L1250.50 411.4 L1250.75 416.8 L1251.00 421.7 L1251.25 426.3 L1251.50 430.7 L1251.75 434.9 L1251.75 437.0Z" fill="#ea5b61" stroke-width="3.0" stroke-linejoin="round"/></g><path d="M663.7 286.6h11.5M663.7 308.6h11.5M663.7 330.5h11.5M663.7 352.5h11.5M663.7 374.4h22M663.7 396.3h11.5M663.7 418.3h11.5M663.7 440.2h11.5M663.7 462.2h11.5M792.4 484.1V462.6M921.1 484.1V462.6M1049.8 484.1V462.6M1178.5 484.1V462.6" stroke="#000" stroke-width="3.6"/><rect x="663.7" y="264.7" width="643.5" height="219.40000000000003" fill="none" stroke="#000" stroke-width="3.8"/><text x="644.8" y="291.5" font-family="'Liberation Serif', 'Times New Roman', serif" font-size="43" text-anchor="end">0</text><text x="655.3" y="386.5" font-family="'Liberation Serif', 'Times New Roman', serif" font-size="43" text-anchor="end">–50</text><text x="655.3" y="485.7" font-family="'Liberation Serif', 'Times New Roman', serif" font-size="43" text-anchor="end">–100</text><clipPath id="c2"><rect x="663.7" y="511.2" width="643.5" height="219.2"/></clipPath><g clip-path="url(#c2)" fill="none" stroke="#000000"><path d="M661.7 692.2 L662.5 708.9 L663.2 694.2 L664.0 701.3 L664.7 694.7 L665.5 708.7 L666.2 686.4 L667.0 713.2 L667.7 692.2 L668.5 702.3 L669.2 694.1 L670.0 710.0 L670.7 691.4 L671.5 719.7 L672.2 684.2 L673.0 704.8 L673.7 689.1 L674.5 710.6 L675.2 694.8 L676.0 717.4 L676.7 682.9 L677.5 707.1 L678.2 689.8 L679.0 712.3 L679.7 688.1 L680.5 719.5 L681.2 700.2 L682.0 708.4 L682.7 691.6 L683.5 723.9 L684.2 694.8 L685.0 725.9 L685.7 693.9 L686.5 716.0 L687.2 696.0 L688.0 723.2 L688.7 696.3 L689.5 722.2 L690.2 699.6 L691.0 732.8 L691.7 691.8 L692.5 734.5 L693.2 692.3 L694.0 721.9 L694.7 695.4 L695.5 728.1 L696.2 686.4 L697.0 732.3 L697.7 691.2 L698.5 725.7 L699.2 693.2 L700.0 733.1 L700.7 691.7 L701.5 733.3 L702.2 689.7 L703.0 716.7 L703.7 700.0 L704.5 702.1 L705.2 699.2 L706.0 697.8 L706.7 696.2 L707.5 703.4 L708.2 693.6 L709.0 692.5 L709.7 691.9 L710.5 708.9 L711.2 700.1 L712.0 707.4 L712.7 691.5 L713.5 698.1 L714.2 684.5 L715.0 716.2 L715.7 688.6 L716.5 715.2 L717.2 692.1 L718.0 690.3 L718.7 679.2 L719.5 687.2 L720.2 679.3 L721.0 690.4 L721.7 676.3 L722.5 678.7 L723.2 671.4 L724.0 679.4 L724.7 670.1 L725.5 699.0 L726.2 681.9 L727.0 703.3 L727.7 666.7 L728.5 692.8 L729.2 681.5 L730.0 685.7 L730.7 680.9 L731.5 701.7 L732.2 674.0 L733.0 685.8 L733.7 688.0 L734.5 687.5 L735.2 683.8 L736.0 705.8 L736.7 684.4 L737.5 721.1 L738.2 690.7 L739.0 719.3 L739.7 682.8 L740.5 725.0 L741.2 695.9 L742.0 720.3 L742.7 686.0 L743.5 735.4 L744.2 683.8 L745.0 732.8 L745.7 683.7 L746.5 725.4 L747.2 684.0 L748.0 729.3 L748.7 679.0 L749.5 722.2 L750.2 686.4 L751.0 707.2 L751.7 687.9 L752.5 713.4 L753.2 685.6 L754.0 716.4 L754.7 679.9 L755.5 710.0 L756.2 680.8 L757.0 712.0 L757.7 693.7 L758.5 706.7 L759.2 690.4 L760.0 711.8 L760.7 690.7 L761.5 708.1 L762.2 696.8 L763.0 723.1 L763.7 697.6 L764.5 715.4 L765.2 683.4 L766.0 724.4 L766.7 685.9 L767.5 703.6 L768.2 689.8 L769.0 718.7 L769.7 685.0 L770.5 698.2 L771.2 679.0 L772.0 694.6 L772.7 685.3 L773.5 695.6 L774.2 677.3 L775.0 690.1 L775.7 683.6 L776.5 699.5 L777.2 683.2 L778.0 712.1 L778.7 683.4 L779.5 705.1 L780.2 697.4 L781.0 704.1 L781.7 681.0 L782.5 716.1 L783.2 694.4 L784.0 712.7 L784.7 694.1 L785.5 705.9 L786.2 692.3 L787.0 706.9 L787.7 687.9 L788.5 722.1 L789.2 685.1 L790.0 708.0 L790.7 687.0 L791.5 713.6 L792.2 688.3 L793.0 725.0 L793.7 702.9 L794.5 717.1 L795.2 695.3 L796.0 709.5 L796.7 675.3 L797.5 689.6 L798.2 672.5 L799.0 681.5 L799.7 674.1 L800.5 689.4 L801.2 675.6 L802.0 681.9 L802.7 672.2 L803.5 684.8 L804.2 690.6 L805.0 697.9 L805.7 686.0 L806.5 695.9 L807.2 681.5 L808.0 694.1 L808.7 676.3 L809.5 707.3 L810.2 674.5 L811.0 701.4 L811.7 680.8 L812.5 697.7 L813.2 682.6 L814.0 699.1 L814.7 671.9 L815.5 690.2 L816.2 678.1 L817.0 687.8 L817.7 668.4 L818.5 686.9 L819.2 676.5 L820.0 689.8 L820.7 676.6 L821.5 691.7 L822.2 671.7 L823.0 691.2 L823.7 662.8 L824.5 698.0 L825.2 660.5 L826.0 697.4 L826.7 671.9 L827.5 696.9 L828.2 668.3 L829.0 713.9 L829.7 667.2 L830.5 701.4 L831.2 663.6 L832.0 705.1 L832.7 666.9 L833.5 699.5 L834.2 664.6 L835.0 692.5 L835.7 668.5 L836.5 686.7 L837.2 669.1 L838.0 687.4 L838.7 671.8 L839.5 676.0 L840.2 682.4 L841.0 672.5 L841.7 667.1 L842.5 675.2 L843.2 666.3 L844.0 681.5 L844.7 657.0 L845.5 669.1 L846.2 668.3 L847.0 675.8 L847.7 674.8 L848.5 688.3 L849.2 675.2 L850.0 684.6 L850.7 680.7 L851.5 698.7 L852.2 676.6 L853.0 684.9 L853.7 685.5 L854.5 705.8 L855.2 680.1 L856.0 700.9 L856.7 688.7 L857.5 714.2 L858.2 685.0 L859.0 710.8 L859.7 685.7 L860.5 719.4 L861.2 679.9 L862.0 707.8 L862.7 675.9 L863.5 707.1 L864.2 675.1 L865.0 704.9 L865.7 679.9 L866.5 700.0 L867.2 665.9 L868.0 698.8 L868.7 669.3 L869.5 706.1 L870.2 685.5 L871.0 694.5 L871.7 687.8 L872.5 706.3 L873.2 673.1 L874.0 694.3 L874.7 672.8 L875.5 687.5 L876.2 662.1 L877.0 699.8 L877.7 666.5 L878.5 685.3 L879.2 670.0 L880.0 693.5 L880.7 685.6 L881.5 675.7 L882.2 675.6 L883.0 678.8 L883.7 667.6 L884.5 689.6 L885.2 663.0 L886.0 691.2 L886.7 657.1 L887.5 683.2 L888.2 665.2 L889.0 681.7 L889.7 649.2 L890.5 698.5 L891.2 645.7 L892.0 705.7 L892.7 661.5 L893.5 708.8 L894.2 650.3 L895.0 697.8 L895.7 648.9 L896.5 698.6 L897.2 648.7 L898.0 684.2 L898.7 651.1 L899.5 688.2 L900.2 650.9 L901.0 676.0 L901.7 651.2 L902.5 679.5 L903.2 648.9 L904.0 675.2 L904.7 644.1 L905.5 672.7 L906.2 640.1 L907.0 671.0 L907.7 624.2 L908.5 674.4 L909.2 620.3 L910.0 653.6 L910.7 620.7 L911.5 666.8 L912.2 619.5 L913.0 662.5 L913.7 621.6 L914.5 664.3 L915.2 624.6 L916.0 655.8 L916.7 615.9 L917.5 654.5 L918.2 605.8 L919.0 644.1 L919.7 599.7 L920.5 630.5 L921.2 603.0 L922.0 634.5 L922.7 603.7 L923.5 633.6 L924.2 589.8 L925.0 618.2 L925.7 602.0 L926.5 630.0 L927.2 589.9 L928.0 625.4 L928.7 594.1 L929.5 605.8 L930.2 585.7 L931.0 601.9 L931.7 590.7 L932.5 606.3 L933.2 584.9 L934.0 602.0 L934.7 586.1 L935.5 597.6 L936.2 586.5 L937.0 590.5 L937.7 590.9 L938.5 605.2 L939.2 597.0 L940.0 613.1 L940.7 588.6 L941.5 605.3 L942.2 594.8 L943.0 610.4 L943.7 595.6 L944.5 608.4 L945.2 589.1 L946.0 606.6 L946.7 595.9 L947.5 604.9 L948.2 590.3 L949.0 606.4 L949.7 596.0 L950.5 660.7 L951.2 592.2 L952.0 606.6 L952.7 591.6 L953.5 618.1 L954.2 589.1 L955.0 621.3 L955.7 584.3 L956.5 621.3 L957.2 592.1 L958.0 606.1 L958.7 594.9 L959.5 625.1 L960.2 588.2 L961.0 621.4 L961.7 597.8 L962.5 607.8 L963.2 598.8 L964.0 624.6 L964.7 597.5 L965.5 611.8 L966.2 592.5 L967.0 623.2 L967.7 593.5 L968.5 619.8 L969.2 590.2 L970.0 625.5 L970.7 587.8 L971.5 611.2 L972.2 591.1 L973.0 614.6 L973.7 591.2 L974.5 648.2 L975.2 594.9 L976.0 605.7 L976.7 597.2 L977.5 611.1 L978.2 583.9 L979.0 606.9 L979.7 603.9 L980.5 614.1 L981.2 596.7 L982.0 622.3 L982.7 586.7 L983.5 612.2 L984.2 585.0 L985.0 620.2 L985.7 595.5 L986.5 623.7 L987.2 594.4 L988.0 612.0 L988.7 597.7 L989.5 623.4 L990.2 580.2 L991.0 608.5 L991.7 600.2 L992.5 603.4 L993.2 586.1 L994.0 636.1 L994.7 597.9 L995.5 615.8 L996.2 599.4 L997.0 611.6 L997.7 581.5 L998.5 618.5 L999.2 598.4 L1000.0 615.0 L1000.7 585.8 L1001.5 617.3 L1002.2 586.8 L1003.0 599.3 L1003.7 583.9 L1004.5 602.1 L1005.2 587.4 L1006.0 602.5 L1006.7 596.6 L1007.5 598.6 L1008.2 585.5 L1009.0 602.9 L1009.7 584.5 L1010.5 612.7 L1011.2 584.4 L1012.0 596.1 L1012.7 595.9 L1013.5 603.2 L1014.2 584.8 L1015.0 614.6 L1015.7 591.4 L1016.5 606.2 L1017.2 594.4 L1018.0 602.7 L1018.7 585.6 L1019.5 615.9 L1020.2 594.8 L1021.0 609.5 L1021.7 583.1 L1022.5 609.9 L1023.2 585.6 L1024.0 623.9 L1024.7 595.6 L1025.5 602.7 L1026.2 589.9 L1027.0 603.5 L1027.7 585.9 L1028.5 612.8 L1029.2 583.7 L1030.0 608.7 L1030.7 587.4 L1031.5 611.5 L1032.2 594.2 L1033.0 613.9 L1033.7 583.6 L1034.5 609.7 L1035.2 586.9 L1036.0 651.4 L1036.7 588.1 L1037.5 609.1 L1038.2 597.3 L1039.0 603.4 L1039.7 584.5 L1040.5 595.4 L1041.2 594.9 L1042.0 597.2 L1042.7 586.3 L1043.5 612.0 L1044.2 595.5 L1045.0 599.6 L1045.7 591.4 L1046.5 615.7 L1047.2 579.9 L1048.0 615.6 L1048.7 597.3 L1049.5 612.6 L1050.2 596.8 L1051.0 601.0 L1051.7 590.3 L1052.5 602.3 L1053.2 586.5 L1054.0 614.5 L1054.7 594.6 L1055.5 608.6 L1056.2 584.1 L1057.0 609.0 L1057.7 593.0 L1058.5 600.6 L1059.2 595.0 L1060.0 632.9 L1060.7 583.4 L1061.5 597.3 L1062.2 589.5 L1063.0 613.5 L1063.7 584.1 L1064.5 598.4 L1065.2 576.9 L1066.0 598.9 L1066.7 592.9 L1067.5 613.5 L1068.2 597.2 L1069.0 596.2 L1069.7 584.2 L1070.5 606.7 L1071.2 588.8 L1072.0 610.8 L1072.7 598.0 L1073.5 608.4 L1074.2 593.0 L1075.0 595.9 L1075.7 596.1 L1076.5 605.3 L1077.2 597.8 L1078.0 608.1 L1078.7 594.5 L1079.5 613.8 L1080.2 586.8 L1081.0 626.2 L1081.7 589.7 L1082.5 613.6 L1083.2 583.4 L1084.0 606.8 L1084.7 598.3 L1085.5 595.5 L1086.2 590.2 L1087.0 639.9 L1087.7 593.4 L1088.5 644.3 L1089.2 585.6 L1090.0 606.4 L1090.7 584.0 L1091.5 630.0 L1092.2 593.5 L1093.0 610.1 L1093.7 583.1 L1094.5 621.3 L1095.2 582.1 L1096.0 593.4 L1096.7 588.9 L1097.5 603.7 L1098.2 596.4 L1099.0 609.0 L1099.7 584.1 L1100.5 607.8 L1101.2 596.3 L1102.0 646.5 L1102.7 584.7 L1103.5 596.3 L1104.2 588.6 L1105.0 611.2 L1105.7 596.4 L1106.5 604.3 L1107.2 591.9 L1108.0 607.6 L1108.7 588.6 L1109.5 599.6 L1110.2 578.1 L1111.0 596.3 L1111.7 591.2 L1112.5 601.7 L1113.2 600.2 L1114.0 601.3 L1114.7 576.8 L1115.5 600.0 L1116.2 595.5 L1117.0 596.2 L1117.7 585.4 L1118.5 598.8 L1119.2 594.8 L1120.0 604.7 L1120.7 594.8 L1121.5 613.4 L1122.2 587.5 L1123.0 605.8 L1123.7 598.5 L1124.5 602.6 L1125.2 583.4 L1126.0 598.9 L1126.7 592.2 L1127.5 599.3 L1128.2 594.2 L1129.0 638.3 L1129.7 589.7 L1130.5 629.3 L1131.2 589.0 L1132.0 598.6 L1132.7 598.8 L1133.5 612.8 L1134.2 591.8 L1135.0 611.1 L1135.7 591.3 L1136.5 611.2 L1137.2 585.5 L1138.0 605.0 L1138.7 585.9 L1139.5 610.2 L1140.2 595.8 L1141.0 631.2 L1141.7 580.8 L1142.5 630.4 L1143.2 590.2 L1144.0 616.7 L1144.7 596.0 L1145.5 604.5 L1146.2 583.5 L1147.0 615.6 L1147.7 583.1 L1148.5 607.9 L1149.2 585.6 L1150.0 610.2 L1150.7 590.1 L1151.5 601.9 L1152.2 590.4 L1153.0 617.1 L1153.7 583.7 L1154.5 600.3 L1155.2 595.1 L1156.0 602.8 L1156.7 593.9 L1157.5 625.8 L1158.2 585.8 L1159.0 612.0 L1159.7 585.5 L1160.5 608.3 L1161.2 585.2 L1162.0 603.2 L1162.7 584.0 L1163.5 606.0 L1164.2 584.8 L1165.0 602.0 L1165.7 597.9 L1166.5 608.4 L1167.2 584.5 L1168.0 616.4 L1168.7 593.8 L1169.5 612.9 L1170.2 590.3 L1171.0 601.8 L1171.7 592.2 L1172.5 596.0 L1173.2 590.9 L1174.0 612.2 L1174.7 589.3 L1175.5 611.6 L1176.2 588.2 L1177.0 595.3 L1177.7 597.8 L1178.5 613.2 L1179.2 590.9 L1180.0 596.0 L1180.7 589.6 L1181.5 606.3 L1182.2 589.6 L1183.0 624.5 L1183.7 594.1 L1184.5 644.1 L1185.2 584.1 L1186.0 616.1 L1186.7 591.3 L1187.5 612.9 L1188.2 594.2 L1189.0 652.6 L1189.7 585.9 L1190.5 609.6 L1191.2 594.0 L1192.0 611.2 L1192.7 589.9 L1193.5 613.0 L1194.2 580.0 L1195.0 612.9 L1195.7 593.2 L1196.5 606.4 L1197.2 584.2 L1198.0 608.8 L1198.7 595.7 L1199.5 611.2 L1200.2 592.5 L1201.0 605.8 L1201.7 588.3 L1202.5 617.9 L1203.2 590.3 L1204.0 614.9 L1204.7 600.1 L1205.5 602.5 L1206.2 590.7 L1207.0 605.4 L1207.7 594.0 L1208.5 600.7 L1209.2 591.7 L1210.0 613.0 L1210.7 578.1 L1211.5 603.7 L1212.2 583.3 L1213.0 617.1 L1213.7 595.4 L1214.5 604.7 L1215.2 588.2 L1216.0 601.1 L1216.7 598.0 L1217.5 613.3 L1218.2 580.0 L1219.0 616.3 L1219.7 588.4 L1220.5 648.7 L1221.2 582.2 L1222.0 613.3 L1222.7 589.3 L1223.5 607.0 L1224.2 592.1 L1225.0 609.6 L1225.7 599.7 L1226.5 615.3 L1227.2 589.1 L1228.0 613.7 L1228.7 587.9 L1229.5 615.8 L1230.2 590.7 L1231.0 608.2 L1231.7 584.7 L1232.5 617.6 L1233.2 583.5 L1234.0 610.9 L1234.7 592.5 L1235.5 616.7 L1236.2 584.4 L1237.0 603.6 L1237.7 586.0 L1238.5 609.9 L1239.2 594.9 L1240.0 614.6 L1240.7 599.7 L1241.5 613.1 L1242.2 588.6 L1243.0 597.4 L1243.7 591.2 L1244.5 615.7 L1245.2 586.9 L1246.0 601.2 L1246.7 588.0 L1247.5 626.3 L1248.2 584.2 L1249.0 616.5 L1249.7 583.9 L1250.5 644.6 L1251.2 596.9 L1252.0 611.3 L1252.7 579.3 L1253.5 609.1 L1254.2 585.5 L1255.0 600.1 L1255.7 600.5 L1256.5 608.1 L1257.2 593.8 L1258.0 613.3 L1258.7 577.9 L1259.5 605.4 L1260.2 583.5 L1261.0 610.8 L1261.7 591.1 L1262.5 615.1 L1263.2 594.5 L1264.0 614.6 L1264.7 594.1 L1265.5 614.2 L1266.2 582.5 L1267.0 611.5 L1267.7 584.2 L1268.5 607.9 L1269.2 584.5 L1270.0 607.9 L1270.7 589.6 L1271.5 628.7 L1272.2 588.1 L1273.0 616.8 L1273.7 587.2 L1274.5 606.7 L1275.2 583.3 L1276.0 616.8 L1276.7 584.7 L1277.5 614.2 L1278.2 585.5 L1279.0 615.2 L1279.7 589.0 L1280.5 615.3 L1281.2 586.1 L1282.0 603.5 L1282.7 591.7 L1283.5 603.1 L1284.2 586.5 L1285.0 606.3 L1285.7 590.5 L1286.5 612.0 L1287.2 592.0 L1288.0 608.4 L1288.7 584.6 L1289.5 615.7 L1290.2 588.2 L1291.0 615.6 L1291.7 588.0 L1292.5 612.4 L1293.2 589.8 L1294.0 616.3 L1294.7 592.3 L1295.5 605.6 L1296.2 590.2 L1297.0 613.1 L1297.7 583.4 L1298.5 601.2 L1299.2 597.7 L1300.0 603.2 L1300.7 587.8 L1301.5 601.7 L1302.2 588.4 L1303.0 614.4 L1303.7 589.0 L1304.5 629.1 L1305.2 583.5 L1306.0 609.6 L1306.7 597.8 L1307.5 597.1 L1308.2 592.2 L1309.0 615.4" stroke-width="3.7" stroke-linejoin="round"/><path d="M717.45 677.5 L717.45 673.3 L717.70 666.6 L717.95 657.4 L718.20 628.5 L718.45 628.5 L718.70 628.5 L718.95 628.5 L719.20 628.5 L719.45 657.4 L719.70 666.6 L719.95 673.3 L719.95 677.5ZM732.60 678.2 L732.60 676.2 L732.85 666.8 L733.10 655.3 L733.35 639.5 L733.60 590.0 L733.85 590.0 L734.10 590.0 L734.35 590.0 L734.60 590.0 L734.85 639.5 L735.10 655.3 L735.35 666.8 L735.60 676.2 L735.60 678.2ZM755.95 679.8 L755.95 674.4 L756.20 666.1 L756.45 654.8 L756.70 619.3 L756.95 619.3 L757.20 619.3 L757.45 619.3 L757.70 619.3 L757.95 654.8 L758.20 666.1 L758.45 674.4 L758.45 679.8ZM926.50 586.9 L926.50 583.2 L926.75 578.3 L927.00 572.3 L927.25 564.0 L927.50 538.2 L927.75 538.2 L928.00 538.2 L928.25 538.2 L928.50 538.2 L928.75 564.0 L929.00 572.3 L929.25 578.3 L929.50 583.2 L929.50 586.9Z" fill="#000000" stroke-width="3.7" stroke-linejoin="round"/></g><path d="M663.7 533.1h11.5M663.7 555.0h11.5M663.7 577.0h11.5M663.7 598.9h11.5M663.7 620.8h22M663.7 642.7h11.5M663.7 664.6h11.5M663.7 686.6h11.5M663.7 708.5h11.5M792.4 730.4V708.9M921.1 730.4V708.9M1049.8 730.4V708.9M1178.5 730.4V708.9" stroke="#000" stroke-width="3.6"/><rect x="663.7" y="511.2" width="643.5" height="219.2" fill="none" stroke="#000" stroke-width="3.8"/><text x="644.8" y="537.4" font-family="'Liberation Serif', 'Times New Roman', serif" font-size="43" text-anchor="end">0</text><text x="655.3" y="632.8" font-family="'Liberation Serif', 'Times New Roman', serif" font-size="43" text-anchor="end">–50</text><text x="655.3" y="732.9" font-family="'Liberation Serif', 'Times New Roman', serif" font-size="43" text-anchor="end">–100</text><text transform="translate(555.5 486.8) rotate(-90)" font-family="'Liberation Serif', 'Times New Roman', serif" font-size="42.6">Intensity [dB]</text><text x="719" y="794.2" font-family="'Liberation Serif', 'Times New Roman', serif" font-size="44" textLength="521" lengthAdjust="spacingAndGlyphs">Optical Path Length [1cm/div]</text><text x="727.8" y="68.6" font-family="'Liberation Serif', 'Times New Roman', serif" font-size="43">A</text><text x="909.6" y="68.3" font-family="'Liberation Serif', 'Times New Roman', serif" font-size="43">B</text><text x="881.3" y="309.8" font-family="'Liberation Serif', 'Times New Roman', serif" font-size="43">C</text><text x="1049.5" y="375.5" font-family="'Liberation Serif', 'Times New Roman', serif" font-size="43">D</text><text x="1159.2" y="375.5" font-family="'Liberation Serif', 'Times New Roman', serif" font-size="43">E</text><text x="1102.6" y="317" font-family="'Liberation Serif', 'Times New Roman', serif" font-size="42.5">24<tspan dx="-4"> </tspan>dB</text><text x="944.5" y="347.2" font-family="'Liberation Serif', 'Times New Roman', serif" font-size="42">2<tspan font-style="italic">n</tspan><tspan font-size="28">g</tspan><tspan font-style="italic">L</tspan></text><path d="M939 276.8 H1098.4 M1050.3 328.9 H1099.4 M1038.2 289 V323.4" stroke="#000" stroke-width="2.4"/><path d="M945 302.9 H1022" stroke="#000" stroke-width="2"/><path d="M929.7 302.9 L950 297.5 L950 308.3 Z M1037.7 302.9 L1017.4 297.5 L1017.4 308.3 Z" fill="#000"/><path d="M1084 290 V316" stroke="#000" stroke-width="2.2"/><path d="M1084 277.5 L1078.9 297.4 L1089.1 297.4 Z M1084 328.5 L1078.9 309.6 L1089.1 309.6 Z" fill="#000"/></svg></body></html>
